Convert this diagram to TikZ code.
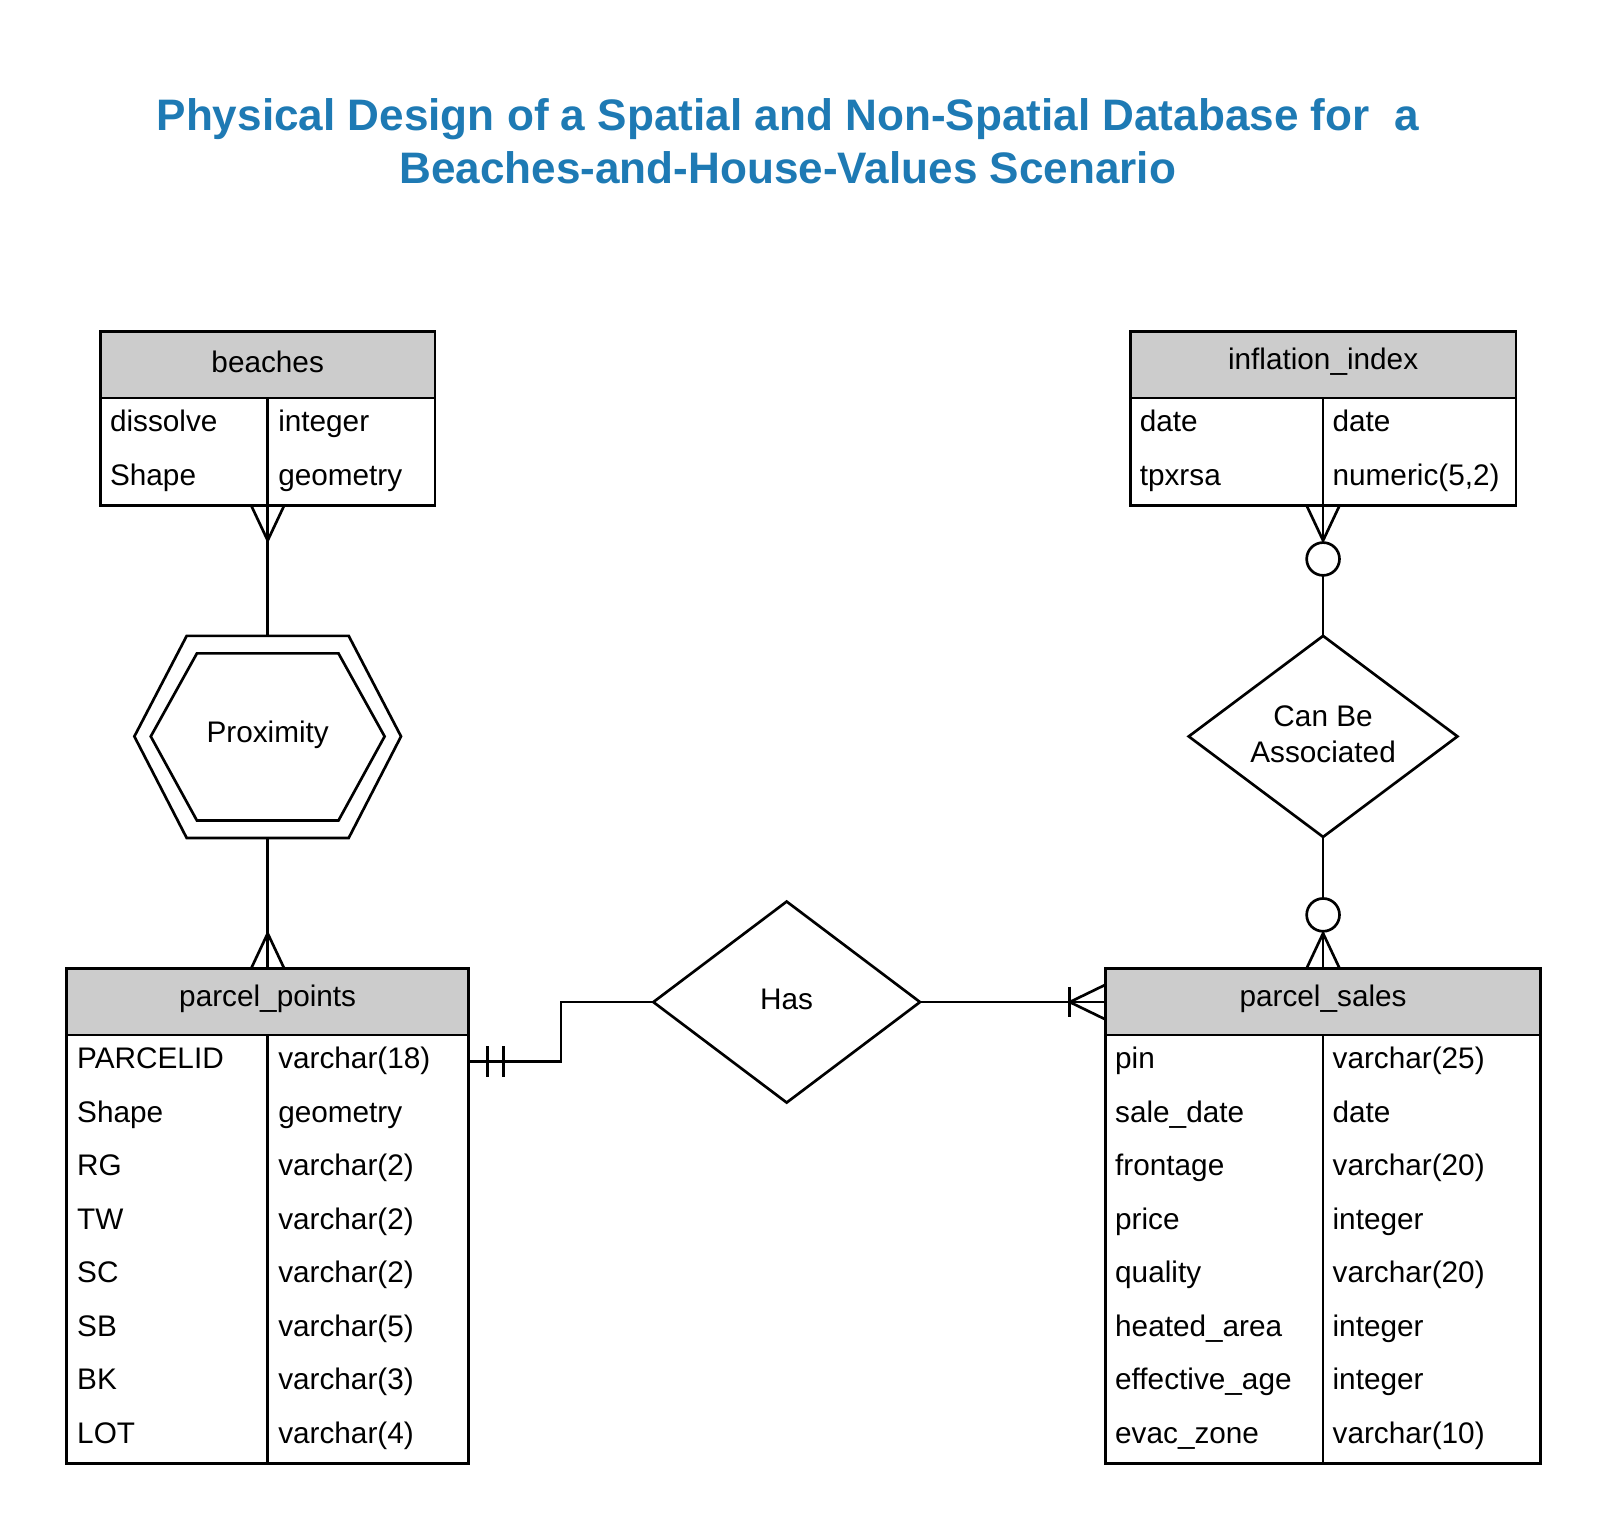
\documentclass[tikz,border=0pt]{standalone}
\usepackage{fontspec}
\setmainfont{Liberation Sans}
\definecolor{ttl}{RGB}{30,122,180}
\definecolor{hdr}{RGB}{204,204,204}
\begin{document}
\begin{tikzpicture}[x=1pt,y=-1pt,line width=2.6pt,
  txt/.style={font=\fontsize{29}{33}\selectfont,inner sep=0pt,anchor=base west},
  ctxt/.style={font=\fontsize{29}{35}\selectfont,inner sep=0pt,align=center}]
\useasboundingbox (0,0) rectangle (1560,1486);
\node[font=\fontsize{43}{52}\bfseries\selectfont,text=ttl,align=center] (title) at (768,138) {Physical Design of a Spatial and Non-Spatial Database for\ \ a\\Beaches-and-House-Values Scenario};
\newcommand\mytable[9]{%
  \fill[hdr] (#2,#5) rectangle (#3,#5+65);
  \draw (#2,#5) rectangle (#3,#6);
  \draw (#2,#5+65) -- (#3,#5+65);
  \draw (#4,#5+65) -- (#4,#6);
  \node[ctxt] (#1) at ({(#2+#3)/2},#5+30) {#7};
  \coordinate (#1-top) at (#4,#5);
  \coordinate (#1-bot) at (#4,#6);
}
\mytable{beaches}{98}{424}{261}{323}{493}{beaches}{}{}
\mytable{infl}{1102}{1478}{1290}{323}{493}{inflation\_index}{}{}
\mytable{pp}{65}{457}{261}{944}{1427}{parcel\_points}{}{}
\mytable{ps}{1078}{1502}{1290}{944}{1427}{parcel\_sales}{}{}
\node[txt] at (106,421) {dissolve}; \node[txt] at (270,421) {integer};
\node[txt] at (106,473) {Shape}; \node[txt] at (270,473) {geometry};
\node[txt] at (1110,421) {date}; \node[txt] at (1298,421) {date};
\node[txt] at (1110,473) {tpxrsa}; \node[txt] at (1298,473) {numeric(5,2)};
\foreach \a/\b [count=\i from 0] in {PARCELID/varchar(18),Shape/geometry,RG/varchar(2),TW/varchar(2),SC/varchar(2),SB/varchar(5),BK/varchar(3),LOT/varchar(4)}
  {\node[txt] at (74,1042+52.2*\i) {\a}; \node[txt] at (270,1042+52.2*\i) {\b};}
\foreach \a/\b [count=\i from 0] in {pin/varchar(25),sale\_date/date,frontage/varchar(20),price/integer,quality/varchar(20),heated\_area/integer,effective\_age/integer,evac\_zone/varchar(10)}
  {\node[txt] at (1086,1042+52.2*\i) {\a}; \node[txt] at (1298,1042+52.2*\i) {\b};}
\draw (131,718) -- (182,620) -- (340,620) -- (391,718) -- (340,817) -- (182,817) -- cycle;
\draw (147,718) -- (192,637) -- (330,637) -- (375,718) -- (330,800) -- (192,800) -- cycle;
\node[ctxt] (prox) at (261,716) {Proximity};
\coordinate (prox-top) at (261,620); \coordinate (prox-bot) at (261,817);
\draw (1159,718) -- (1290,620) -- (1421,718) -- (1290,816) -- cycle;
\node[ctxt] (cba) at (1290,716) {Can Be\\Associated};
\coordinate (cba-top) at (1290,620); \coordinate (cba-bot) at (1290,816);
\draw (637,977) -- (767,879) -- (897,977) -- (767,1075) -- cycle;
\node[ctxt] (has) at (767,974) {Has};
\coordinate (has-l) at (637,977); \coordinate (has-r) at (897,977);
\draw (beaches-bot) -- (prox-top);
\draw (245,493) -- (261,527) -- (277,493);
\draw (prox-bot) -- (pp-top);
\draw (245,944) -- (261,910) -- (277,944);
\draw (infl-bot) -- (1290,529); \draw (1290,545) circle (16); \draw (1290,561) -- (cba-top);
\draw (1274,493) -- (1290,527) -- (1306,493);
\draw (cba-bot) -- (1290,876); \draw (1290,892) circle (16); \draw (1290,908) -- (ps-top);
\draw (1274,944) -- (1290,910) -- (1306,944);
\coordinate (pp-r) at (457,1035);
\draw (has-l) -- (547,977) -- (547,1035) -- (pp-r);
\draw (475,1020) -- (475,1050); \draw (491,1020) -- (491,1050);
\coordinate (ps-l) at (1078,977);
\draw (has-r) -- (ps-l);
\draw (1078,960) -- (1043,977) -- (1078,994);
\draw (1043,962) -- (1043,992);
\end{tikzpicture}
\end{document}
